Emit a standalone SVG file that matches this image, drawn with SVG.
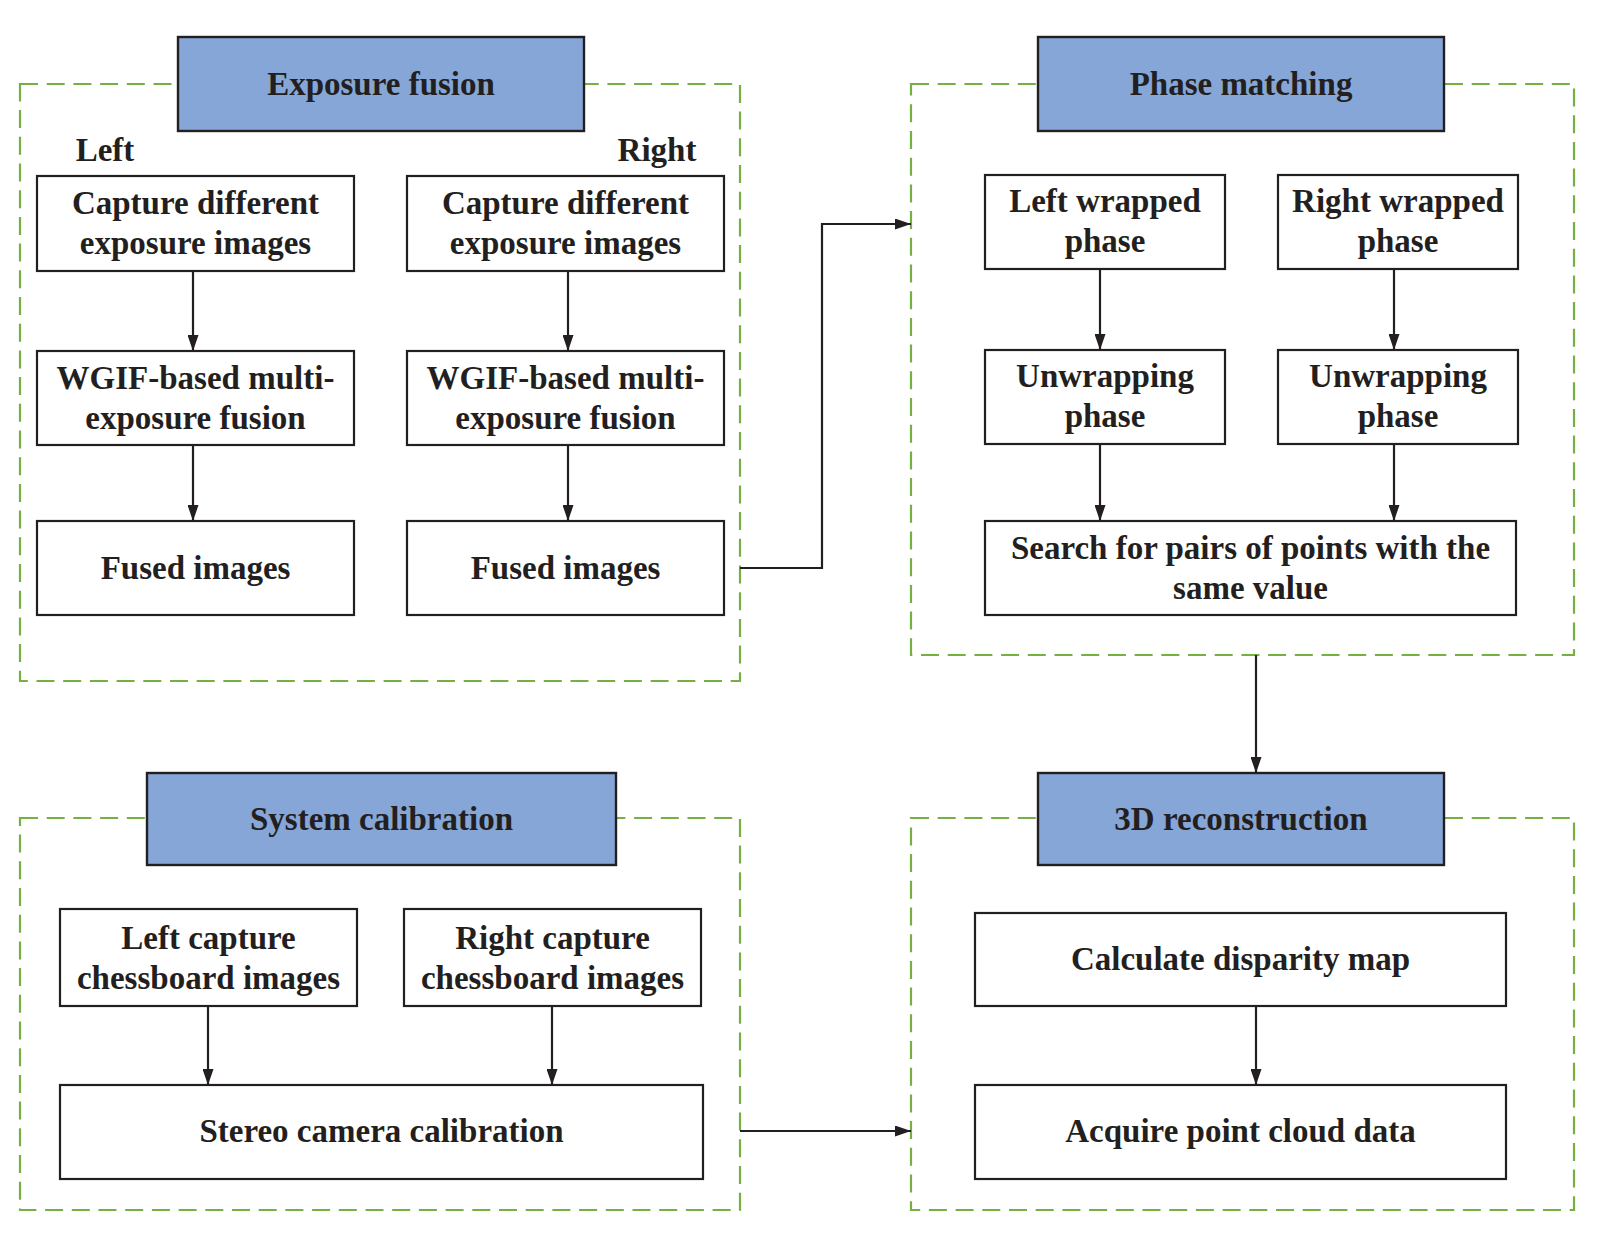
<svg xmlns="http://www.w3.org/2000/svg" width="1600" height="1234" viewBox="0 0 1600 1234">
<defs>
<marker id="ah" markerWidth="16" markerHeight="11" refX="16" refY="5.5" orient="auto" markerUnits="userSpaceOnUse">
<path d="M0,0 L16,5.5 L0,11 Z" fill="#231F20"/>
</marker>
<style>
.grp{fill:none;stroke:#76B043;stroke-width:2.2;stroke-dasharray:18 8.7}
.hdr{fill:#85A6D6;stroke:#231F20;stroke-width:2.4}
.box{fill:#fff;stroke:#231F20;stroke-width:2.2}
text{font-family:"Liberation Serif","Times New Roman",serif;font-weight:bold;font-size:33px;fill:#231F20;text-anchor:middle}
.con{fill:none;stroke:#231F20;stroke-width:2.2;marker-end:url(#ah)}
</style>
</defs>
<rect width="1600" height="1234" fill="#fff"/>

<g id="group-exposure">
<rect class="grp" x="20" y="84" width="720" height="597"/>
</g>
<g id="group-phase">
<rect class="grp" x="911" y="84" width="663" height="571"/>
</g>
<g id="group-calib">
<rect class="grp" x="20" y="818" width="720" height="392"/>
</g>
<g id="group-recon">
<rect class="grp" x="911" y="818" width="663" height="392"/>
</g>

<g id="connectors">
<line class="con" x1="193" y1="271" x2="193" y2="351"/>
<line class="con" x1="193" y1="445" x2="193" y2="521"/>
<line class="con" x1="568" y1="271" x2="568" y2="351"/>
<line class="con" x1="568" y1="445" x2="568" y2="521"/>
<path class="con" d="M740 568 H822 V224 H911"/>
<line class="con" x1="1100" y1="269" x2="1100" y2="350"/>
<line class="con" x1="1100" y1="444" x2="1100" y2="521"/>
<line class="con" x1="1394" y1="269" x2="1394" y2="350"/>
<line class="con" x1="1394" y1="444" x2="1394" y2="521"/>
<line class="con" x1="1256" y1="655" x2="1256" y2="773"/>
<line class="con" x1="208" y1="1006" x2="208" y2="1085"/>
<line class="con" x1="552" y1="1006" x2="552" y2="1085"/>
<line class="con" x1="740" y1="1131" x2="911" y2="1131"/>
<line class="con" x1="1256" y1="1006" x2="1256" y2="1085"/>
</g>

<g id="hdr-exposure">
<rect class="hdr" x="178" y="37" width="406" height="94"/>
<text x="381" y="95">Exposure fusion</text>
</g>
<g id="lbl-left"><text x="105" y="161">Left</text></g>
<g id="lbl-right"><text x="657" y="161">Right</text></g>
<g id="ef-l1">
<rect class="box" x="37" y="176" width="317" height="95"/>
<text x="195.5" y="214">Capture different</text>
<text x="195.5" y="254">exposure images</text>
</g>
<g id="ef-l2">
<rect class="box" x="37" y="351" width="317" height="94"/>
<text x="195.5" y="389">WGIF-based multi-</text>
<text x="195.5" y="429">exposure fusion</text>
</g>
<g id="ef-l3">
<rect class="box" x="37" y="521" width="317" height="94"/>
<text x="195.5" y="579">Fused images</text>
</g>
<g id="ef-r1">
<rect class="box" x="407" y="176" width="317" height="95"/>
<text x="565.5" y="214">Capture different</text>
<text x="565.5" y="254">exposure images</text>
</g>
<g id="ef-r2">
<rect class="box" x="407" y="351" width="317" height="94"/>
<text x="565.5" y="389">WGIF-based multi-</text>
<text x="565.5" y="429">exposure fusion</text>
</g>
<g id="ef-r3">
<rect class="box" x="407" y="521" width="317" height="94"/>
<text x="565.5" y="579">Fused images</text>
</g>

<g id="hdr-phase">
<rect class="hdr" x="1038" y="37" width="406" height="94"/>
<text x="1241" y="95">Phase matching</text>
</g>
<g id="pm-lw">
<rect class="box" x="985" y="175" width="240" height="94"/>
<text x="1105" y="212">Left wrapped</text>
<text x="1105" y="252">phase</text>
</g>
<g id="pm-rw">
<rect class="box" x="1278" y="175" width="240" height="94"/>
<text x="1398" y="212">Right wrapped</text>
<text x="1398" y="252">phase</text>
</g>
<g id="pm-lu">
<rect class="box" x="985" y="350" width="240" height="94"/>
<text x="1105" y="387">Unwrapping</text>
<text x="1105" y="427">phase</text>
</g>
<g id="pm-ru">
<rect class="box" x="1278" y="350" width="240" height="94"/>
<text x="1398" y="387">Unwrapping</text>
<text x="1398" y="427">phase</text>
</g>
<g id="pm-search">
<rect class="box" x="985" y="521" width="531" height="94"/>
<text x="1250.5" y="559">Search for pairs of points with the</text>
<text x="1250.5" y="599">same value</text>
</g>

<g id="hdr-calib">
<rect class="hdr" x="147" y="773" width="469" height="92"/>
<text x="381.5" y="830">System calibration</text>
</g>
<g id="sc-left">
<rect class="box" x="60" y="909" width="297" height="97"/>
<text x="208.5" y="949">Left capture</text>
<text x="208.5" y="989">chessboard images</text>
</g>
<g id="sc-right">
<rect class="box" x="404" y="909" width="297" height="97"/>
<text x="552.5" y="949">Right capture</text>
<text x="552.5" y="989">chessboard images</text>
</g>
<g id="sc-stereo">
<rect class="box" x="60" y="1085" width="643" height="94"/>
<text x="381.5" y="1142">Stereo camera calibration</text>
</g>

<g id="hdr-recon">
<rect class="hdr" x="1038" y="773" width="406" height="92"/>
<text x="1241" y="830">3D reconstruction</text>
</g>
<g id="r-disp">
<rect class="box" x="975" y="913" width="531" height="93"/>
<text x="1240.5" y="970">Calculate disparity map</text>
</g>
<g id="r-cloud">
<rect class="box" x="975" y="1085" width="531" height="94"/>
<text x="1240.5" y="1142">Acquire point cloud data</text>
</g>
</svg>
